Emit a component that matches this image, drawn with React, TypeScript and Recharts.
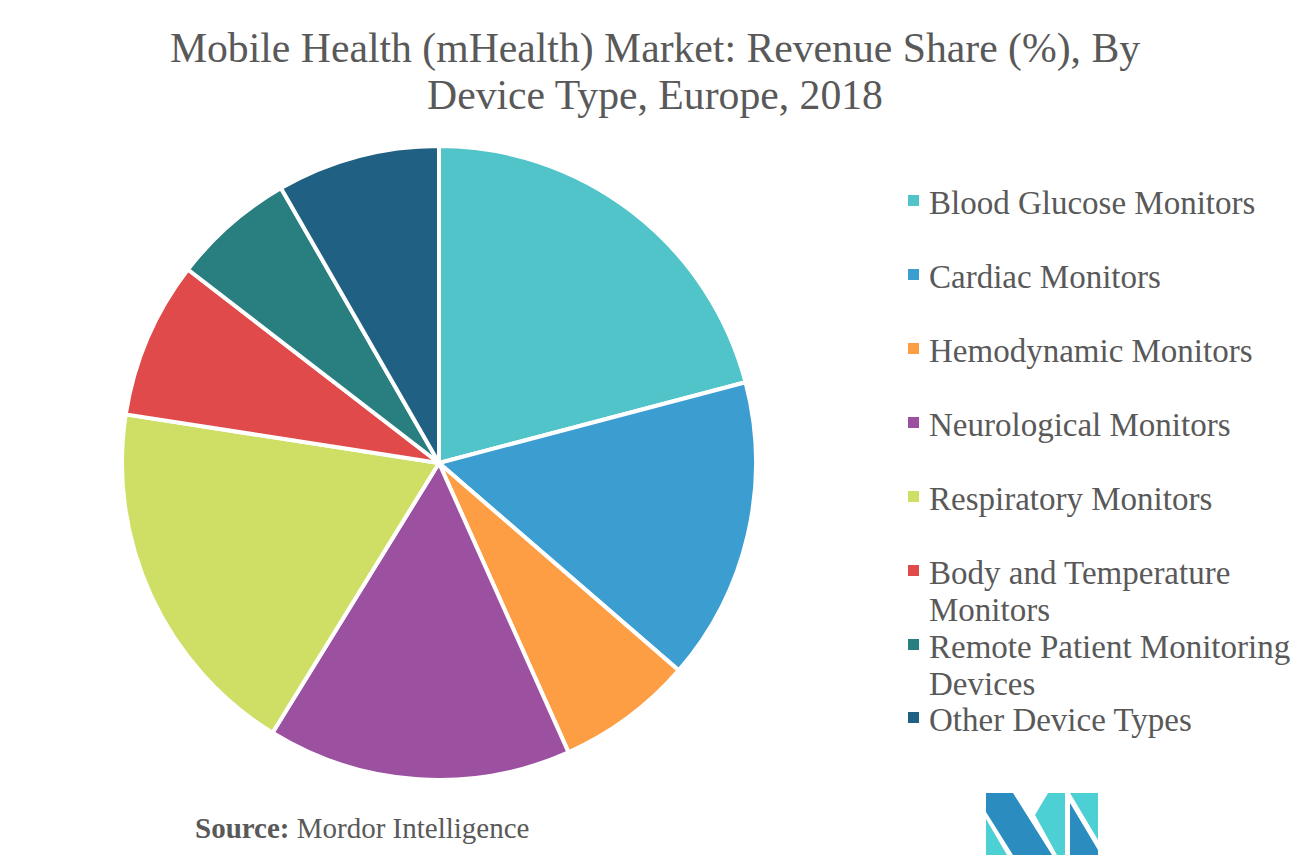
import {PieChart, Pie, Cell, Customized} from 'recharts';

const categories = [
	'Blood Glucose Monitors',
	'Cardiac Monitors',
	'Hemodynamic Monitors',
	'Neurological Monitors',
	'Respiratory Monitors',
	'Body and Temperature Monitors',
	'Remote Patient Monitoring Devices',
	'Other Device Types',
];
const shares = [20.9, 15.45, 6.95, 15.5, 18.65, 8.0, 6.25, 8.3];
const colors = ['#50c4c8', '#3c9dd0', '#fd9e44', '#9c51a0', '#cfdf66', '#e04a4a', '#297e80', '#1f6083'];
const legendLines = [
	['Blood Glucose Monitors'],
	['Cardiac Monitors'],
	['Hemodynamic Monitors'],
	['Neurological Monitors'],
	['Respiratory Monitors'],
	['Body and Temperature', 'Monitors'],
	['Remote Patient Monitoring', 'Devices'],
	['Other Device Types'],
];
const legendY = [203, 277, 351, 425, 499, 573, 647, 720];

const data = categories.map((name, i) => ({name, value: shares[i]}));
const font = '"Liberation Serif", serif';

function Legend() {
	return (
		<g fontFamily={font} fontSize={33} fill="#595959">
			{legendLines.map((lines, i) => (
				<g key={i}>
					<rect x={908} y={legendY[i] - 8} width={11} height={11} fill={colors[i]}/>
					{lines.map((line, j) => (
						<text key={j} x={929} y={legendY[i] + 11 + j * 37}>{line}</text>
					))}
				</g>
			))}
		</g>
	);
}

function Logo() {
	return (
		<g>
			<polygon points="986,793 1013,793 1052,855 1013,855 986,812" fill="#2b8cc0"/>
			<polygon points="986,819 1007,855 986,855" fill="#4dd0d4"/>
			<polygon points="1048,793 1065,793 1065,855 1057,855 1035,815" fill="#4dd0d4"/>
			<polygon points="1070,793 1098,793 1098,840" fill="#4dd0d4"/>
			<polygon points="1070,803 1098,850 1098,855 1070,855" fill="#2b8cc0"/>
		</g>
	);
}

export default function App() {
	return (
		<div style={{position: 'absolute', left: 0, top: 0, width: 1308, height: 863, background: '#fff'}}>
			<PieChart width={1308} height={863} margin={{top: 0, right: 0, bottom: 0, left: 0}}>
				<text x={655} y={62} textAnchor="middle" fontFamily={font} fontSize={41.7} fill="#595959">Mobile Health (mHealth) Market: Revenue Share (%), By</text>
				<text x={655} y={109} textAnchor="middle" fontFamily={font} fontSize={41.7} fill="#595959">Device Type, Europe, 2018</text>
				<Pie
					data={data}
					dataKey="value"
					nameKey="name"
					cx={439}
					cy={463}
					outerRadius={317}
					startAngle={90}
					endAngle={-270}
					stroke="#fff"
					strokeWidth={4}
					isAnimationActive={false}
					label={false}
					labelLine={false}
				>
					{data.map((d, i) => <Cell key={d.name} fill={colors[i]}/>)}
				</Pie>
				<Customized component={Legend}/>
				<text x={195} y={838} fontFamily={font} fontSize={29} fill="#595959"><tspan fontWeight="bold">Source:</tspan> Mordor Intelligence</text>
				<Customized component={Logo}/>
			</PieChart>
		</div>
	);
}
